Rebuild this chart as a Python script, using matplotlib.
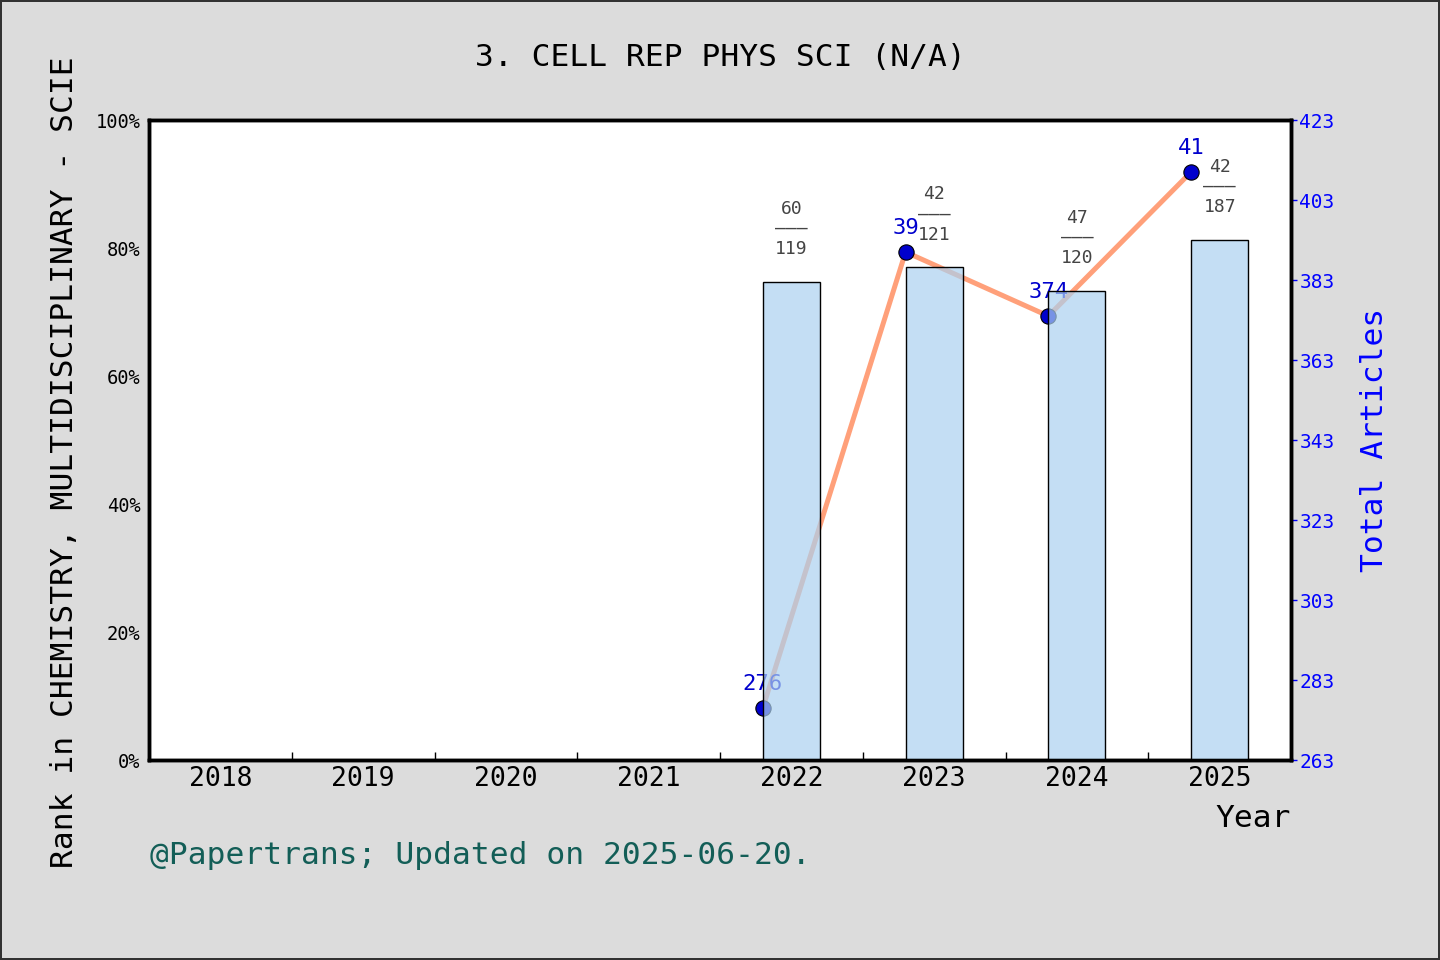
import matplotlib
matplotlib.use("Agg")
import matplotlib.pyplot as plt
from matplotlib.ticker import FixedLocator, FuncFormatter

years = [2018, 2019, 2020, 2021, 2022, 2023, 2024, 2025]
bar_years = [2022, 2023, 2024, 2025]
rank_pct = [74.7, 77.0, 73.3, 81.3]
rank_num = [60, 42, 47, 42]
cat_total = [119, 121, 120, 187]
articles = [276, 390, 374, 410]
article_labels = ["276", "39", "374", "41"]
right_ticks = [263, 283, 303, 323, 343, 363, 383, 403, 423]
left_ticks = [0, 20, 40, 60, 80, 100]

MONO = "DejaVu Sans Mono"
plt.rcParams['font.family'] = [MONO, 'DejaVu Sans']

fig = plt.figure(figsize=(14.4, 9.6), dpi=100)
fig.patch.set_facecolor('#dcdcdc')
fig.patch.set_edgecolor('#333333')
fig.patch.set_linewidth(1.5)

ax = fig.add_axes([149/1440, 1-760/960, (1291-149)/1440, (760-120)/960])
ax2 = ax.twinx()
ax.set_zorder(2)
ax.patch.set_visible(False)
ax2.set_zorder(1)
ax2.patch.set_visible(True)
ax2.patch.set_facecolor('white')

# line + points on right axis
px = [y - 0.2 for y in bar_years]
ax2.plot(px, articles, color='#ffa07a', lw=3.6, zorder=2)
ax2.plot(px, articles, 'o', color='#0000cd', mec='black', mew=0.8, ms=11, zorder=3)
for x, v, lab in zip(px, articles, article_labels):
    ax2.annotate(lab, (x, v), xytext=(0, 10), textcoords='offset points',
                 ha='center', va='bottom', color='#0000cd', fontsize=16)
ax2.set_ylim(263, 423)
ax2.yaxis.set_major_locator(FixedLocator(right_ticks))
ax2.tick_params(axis='y', colors='blue', labelsize=14, length=4, width=1, pad=2)
ax2.set_ylabel('Total Articles', color='blue', fontsize=22.5, labelpad=18)

# bars on left axis
bars = ax.bar(bar_years, rank_pct, width=0.4, color=(171/255, 209/255, 240/255, 0.7),
              edgecolor='black', linewidth=1, zorder=2)
for b, r, t in zip(bars, rank_num, cat_total):
    cx = b.get_x() + b.get_width() / 2
    ax.annotate(f"{r}\n\u2013\u2013\u2013\n{t}", (cx, b.get_height()), xytext=(0, 38),
                textcoords='offset points', ha='center', va='center',
                color='#444444', fontsize=13, linespacing=1.15)

ax.set_xlim(2017.5, 2025.5)
ax.set_ylim(0, 100)
ax.set_xticks(years)
ax.set_xticklabels([str(y) for y in years])
ax.xaxis.set_minor_locator(FixedLocator([y + 0.5 for y in years[:-1]]))
ax.tick_params(axis='x', which='major', length=0, labelsize=19, pad=4)
ax.tick_params(axis='x', which='minor', direction='in', length=6, width=1)
ax.yaxis.set_major_locator(FixedLocator(left_ticks))
ax.yaxis.set_major_formatter(FuncFormatter(lambda v, p: f"{int(v)}%"))
ax.tick_params(axis='y', length=0, labelsize=13.5, pad=6)
ax.set_ylabel('Rank in CHEMISTRY, MULTIDISCIPLINARY - SCIE', fontsize=22.5)
ax.yaxis.set_label_coords(-70/1142, 0.466)
ax.set_xlabel('Year', fontsize=22.5)
ax.xaxis.set_label_coords(1.0, -0.068)
ax.xaxis.label.set_horizontalalignment('right')
for a in (ax, ax2):
    for s in a.spines.values():
        s.set_linewidth(2.5)
        s.set_color('black')

fig.text(0.5, 1 - 57/960, '3. CELL REP PHYS SCI (N/A)', ha='center', va='center', fontsize=22.5)
fig.text(150/1440, 1 - 855/960, '@Papertrans; Updated on 2025-06-20.', ha='left', va='center',
         fontsize=22.5, color='#135e57')

fig.savefig('out.png', dpi=100, facecolor=fig.get_facecolor(), edgecolor=fig.get_edgecolor())
